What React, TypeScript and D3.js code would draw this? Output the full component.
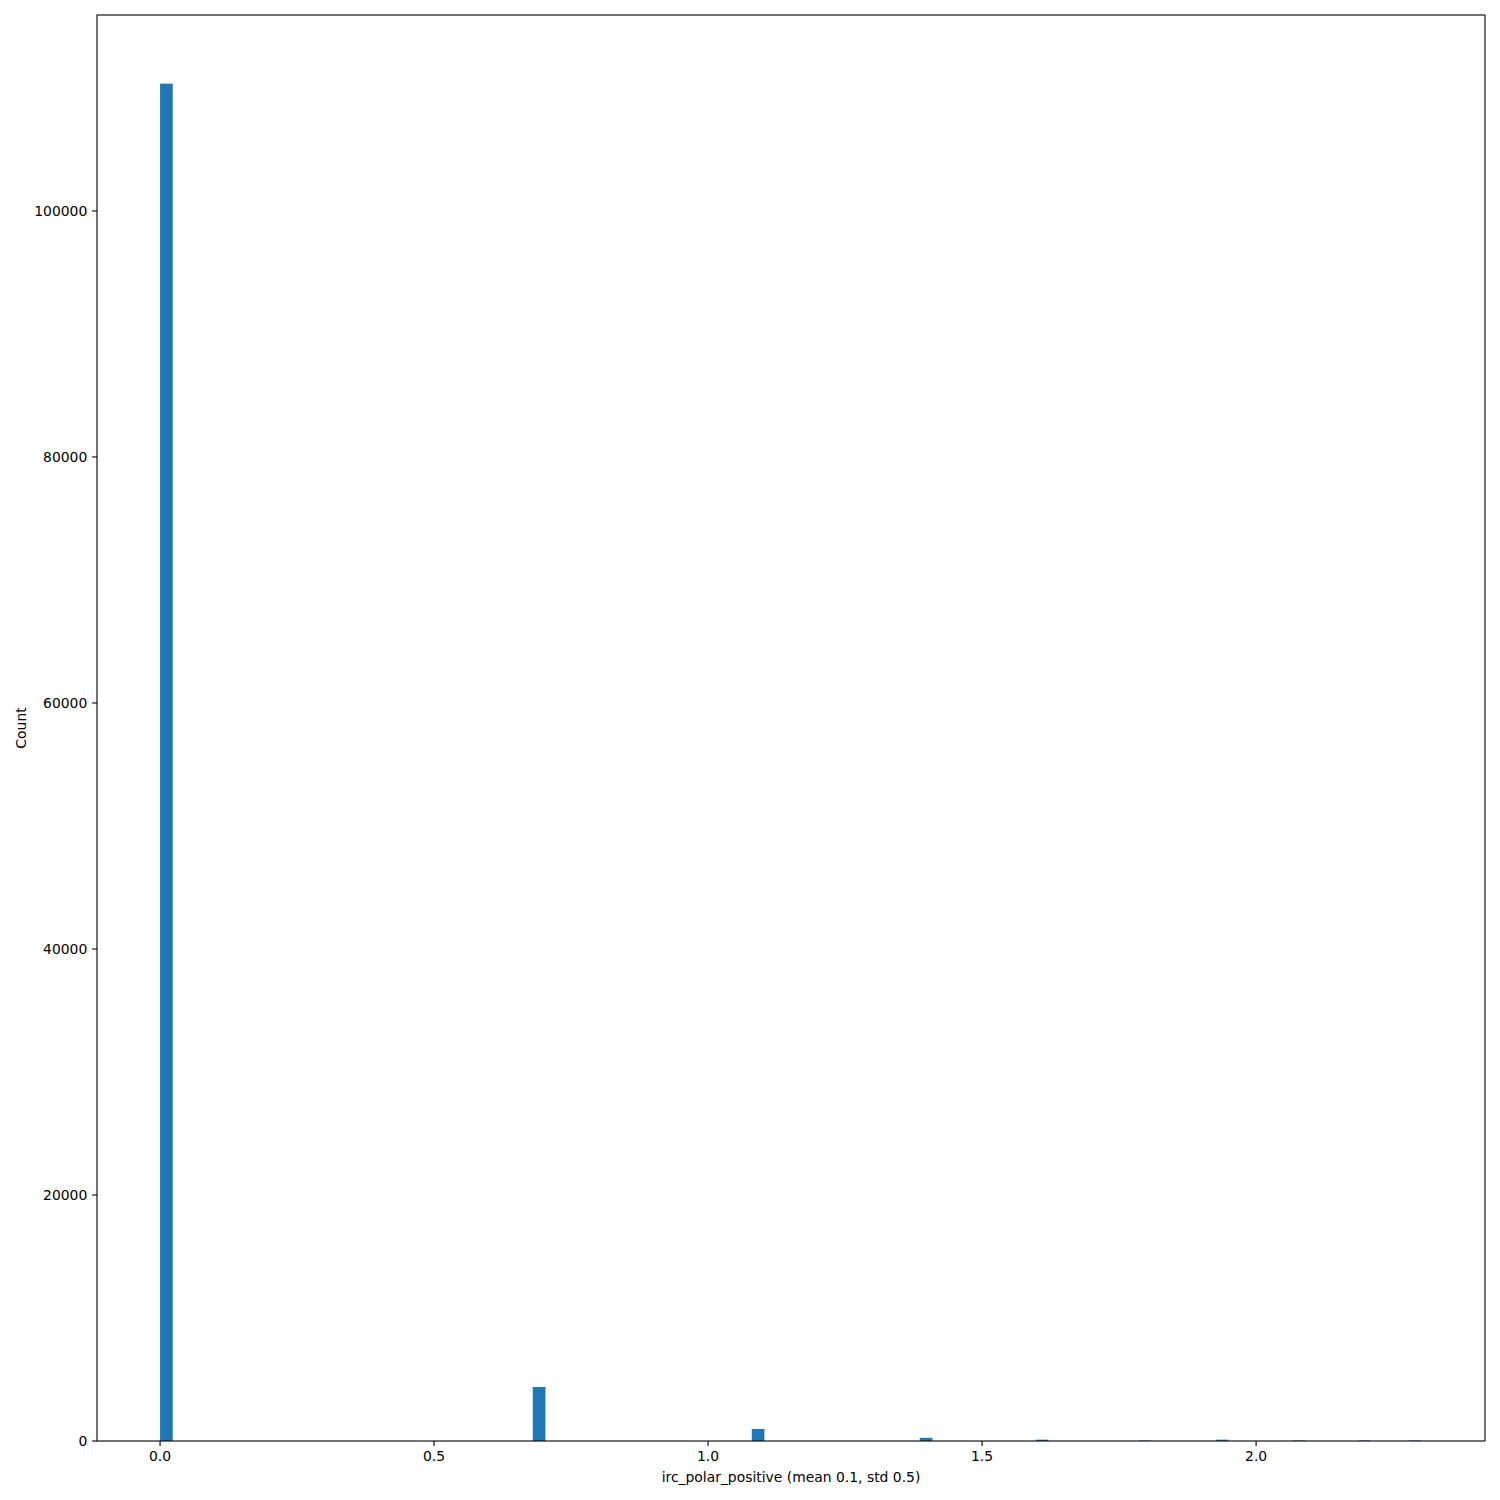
import React from "react";
import * as d3 from "d3";

const binWidth = 0.0231;
const binStarts = [0.0, 0.6801, 1.0797, 1.3863, 1.598, 1.786, 1.9265, 2.067, 2.1856, 2.2787];
const counts = [110350, 4390, 975, 260, 110, 40, 110, 40, 40, 40];
const xTicks = [0, 0.5, 1.0, 1.5, 2.0];
const yTicks = [0, 20000, 40000, 60000, 80000, 100000];
const xLabel = "irc_polar_positive (mean 0.1, std 0.5)";
const yLabel = "Count";

const W = 1500;
const H = 1500;
const left = 97;
const right = 1485;
const top = 15;
const bottom = 1441;

export default function App() {
  const x = d3.scaleLinear().domain([-0.1151, 2.4177]).range([left, right]);
  const y = d3.scaleLinear().domain([0, 115930]).range([bottom, top]);
  const font = "DejaVu Sans, sans-serif";
  const fs = 13.9;
  return (
    <svg
      width={W}
      height={H}
      style={{ position: "absolute", left: 0, top: 0, background: "#fff" }}
      fontFamily={font}
    >
      <rect x={0} y={0} width={W} height={H} fill="#fff" />
      {binStarts.map((b, i) => (
        <rect
          key={i}
          x={x(b)}
          y={y(counts[i])}
          width={x(b + binWidth) - x(b)}
          height={y(0) - y(counts[i])}
          fill="#1f77b4"
        />
      ))}
      <rect
        x={left}
        y={top}
        width={right - left}
        height={bottom - top}
        fill="none"
        stroke="#000"
        strokeWidth={1.1}
      />
      {xTicks.map((t) => (
        <g key={t}>
          <line x1={x(t)} x2={x(t)} y1={bottom} y2={bottom + 4.9} stroke="#000" strokeWidth={1.1} />
          <text x={x(t)} y={bottom + 9.7} dy="0.76em" textAnchor="middle" fontSize={fs} fill="#000">
            {t.toFixed(1)}
          </text>
        </g>
      ))}
      {yTicks.map((t) => (
        <g key={t}>
          <line x1={left} x2={left - 4.9} y1={y(t)} y2={y(t)} stroke="#000" strokeWidth={1.1} />
          <text x={left - 9.7} y={y(t)} dy="0.35em" textAnchor="end" fontSize={fs} fill="#000">
            {String(t)}
          </text>
        </g>
      ))}
      <text x={(left + right) / 2} y={1482} textAnchor="middle" fontSize={fs} fill="#000">
        {xLabel}
      </text>
      <text
        transform={`translate(26, ${(top + bottom) / 2}) rotate(-90)`}
        textAnchor="middle"
        fontSize={fs}
        fill="#000"
      >
        {yLabel}
      </text>
    </svg>
  );
}
